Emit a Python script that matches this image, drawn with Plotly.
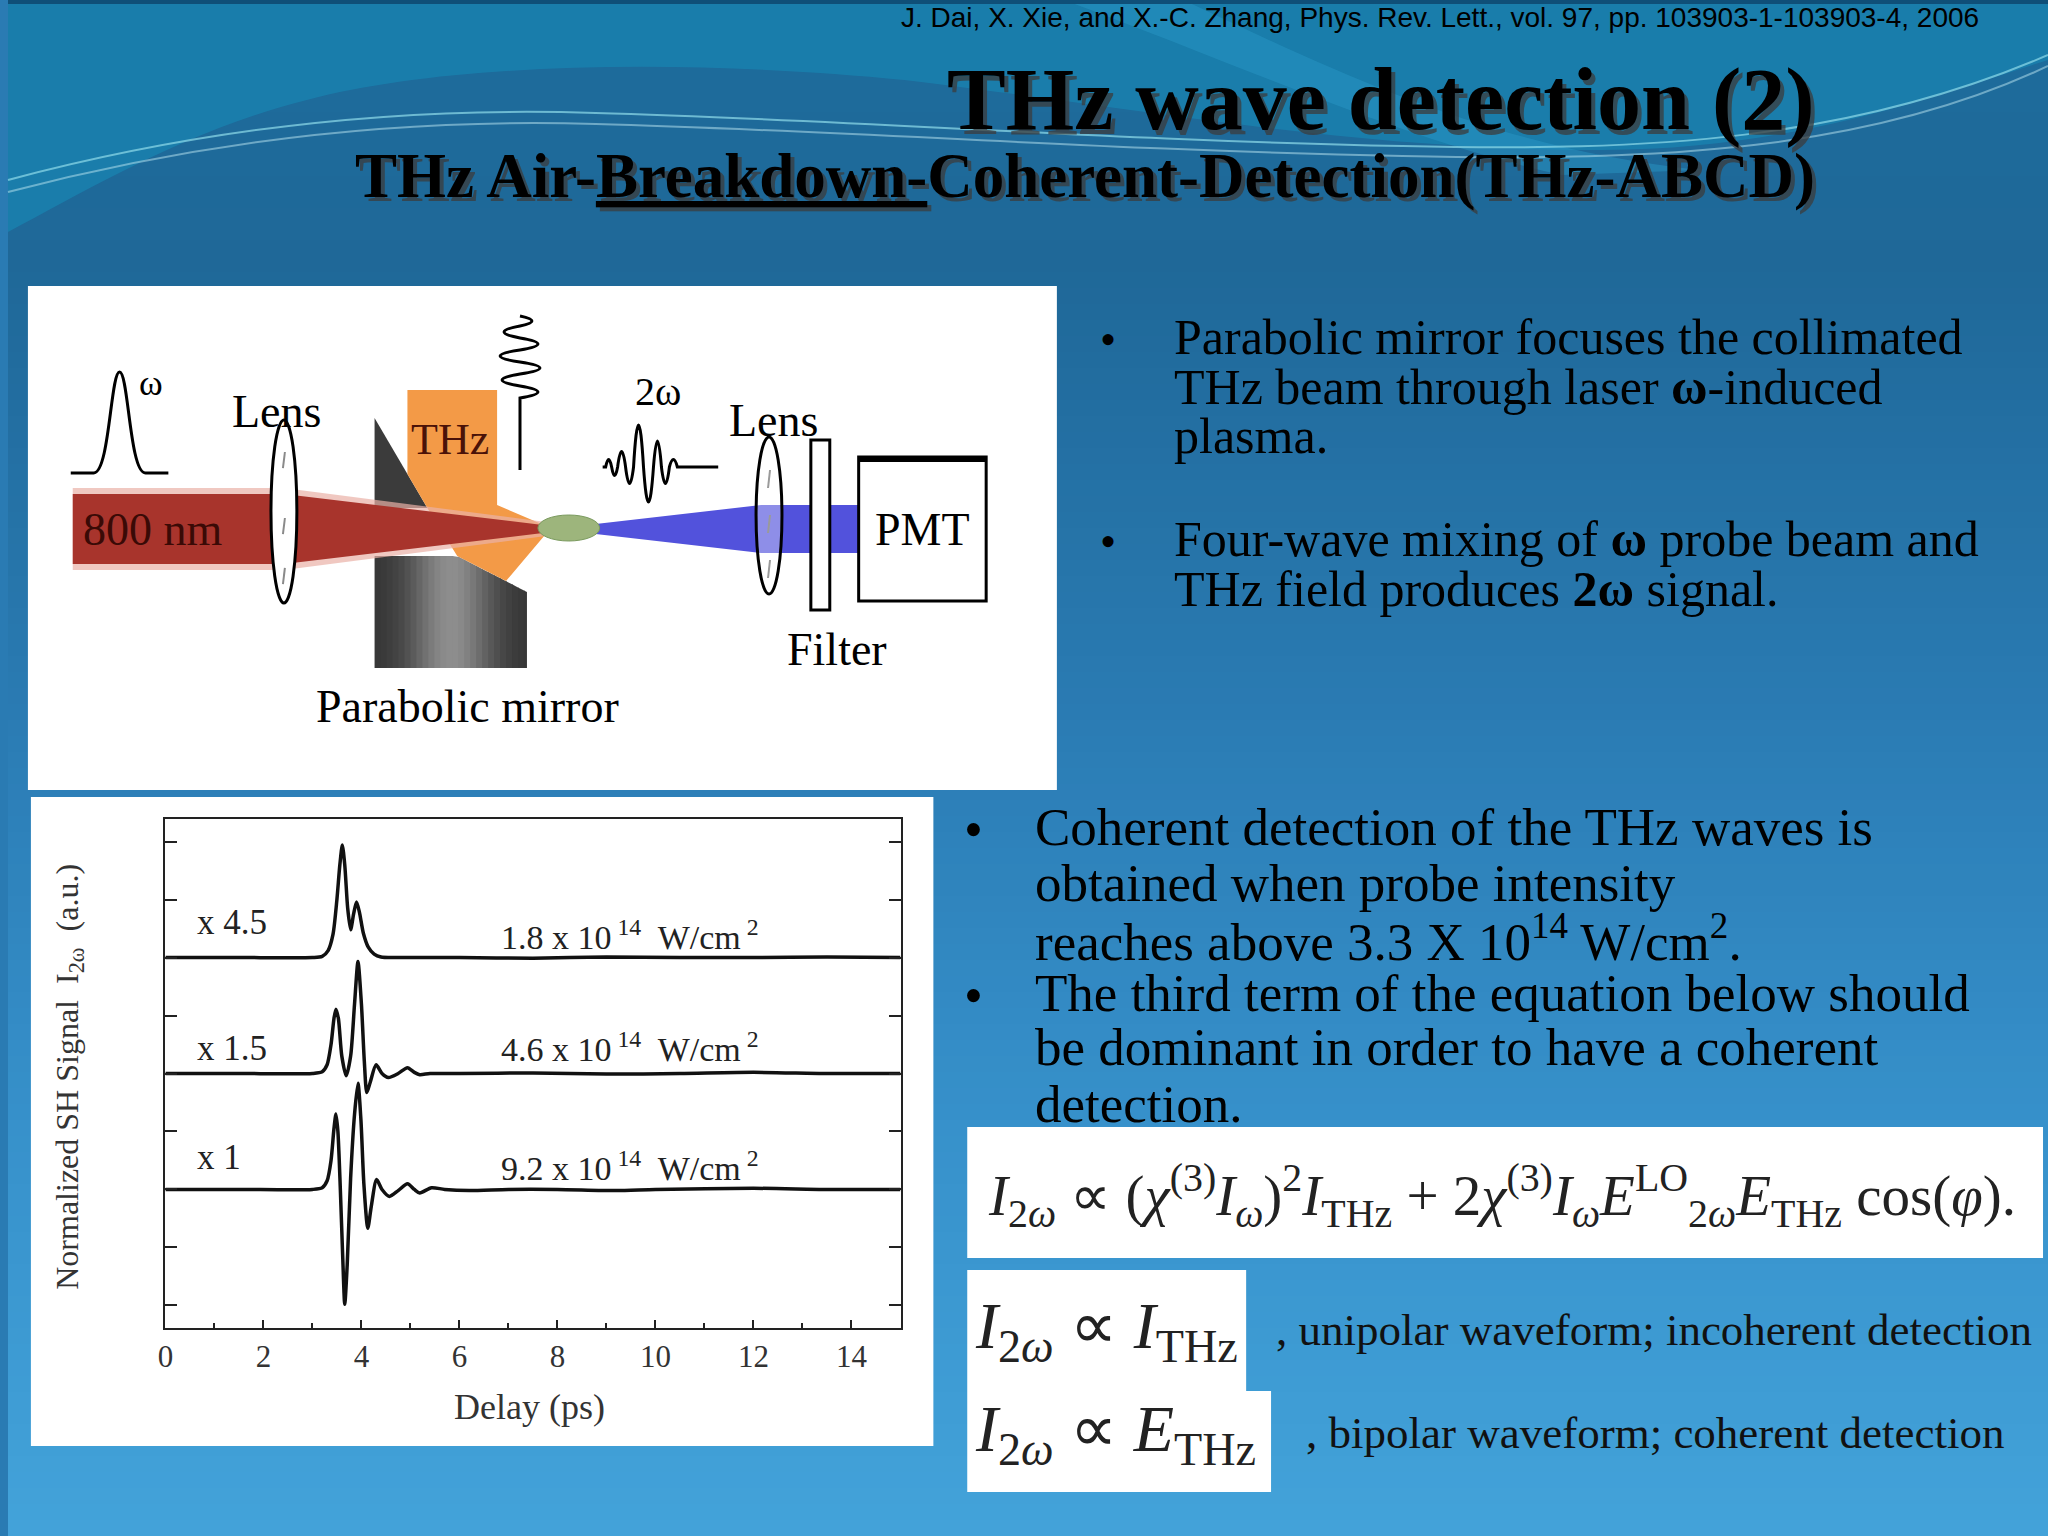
import re
import math
import plotly.graph_objects as go

W, H = 2048, 1536
SERIF = "Liberation Serif"
SANS = "Liberation Sans"

# ---- waveform data (delay in ps, signal in offset units) ----
delay_x45 = [0.0, 1.5, 3.0, 3.2, 3.32, 3.42, 3.50, 3.56, 3.61, 3.66,
             3.72, 3.78, 3.84, 3.90, 3.96, 4.04, 4.14, 4.26, 4.40, 4.7,
             6.0, 7.5, 9.0, 10.5, 12.0, 13.5, 15.0]
signal_x45 = [4.0, 4.0, 4.0, 4.02, 4.12, 4.40, 5.00, 5.60, 5.94, 5.60,
              4.85, 4.48, 4.75, 4.96, 4.78, 4.42, 4.18, 4.06, 4.01, 4.0,
              4.0, 3.99, 4.01, 4.0, 4.0, 4.01, 4.0]

delay_x15 = [0.0, 1.5, 3.0, 3.2, 3.30, 3.38, 3.44, 3.48, 3.53, 3.60,
             3.69, 3.78, 3.86, 3.93, 4.00, 4.06, 4.11, 4.18, 4.30, 4.42,
             4.55, 4.75, 4.94, 5.08, 5.19, 5.40, 6.0, 7.5, 9.0, 10.5,
             12.0, 13.5, 15.0]
signal_x15 = [2.0, 2.0, 2.0, 2.03, 2.15, 2.50, 2.95, 3.11, 2.95, 2.30,
              1.96, 2.30, 3.20, 3.93, 3.20, 2.20, 1.67, 1.85, 2.15, 2.00,
              1.93, 2.00, 2.10, 2.02, 1.98, 2.0, 2.0, 2.01, 1.99, 2.0,
              2.02, 2.0, 2.0]

delay_x1 = [0.0, 1.5, 3.0, 3.2, 3.30, 3.38, 3.44, 3.48, 3.52, 3.57,
            3.62, 3.66, 3.71, 3.78, 3.86, 3.93, 3.99, 4.05, 4.13, 4.20,
            4.31, 4.42, 4.57, 4.75, 4.94, 5.08, 5.19, 5.43, 5.70, 6.2,
            7.0, 8.0, 9.2, 10.0, 12.0, 13.5, 15.0]
signal_x1 = [0.0, 0.0, 0.0, 0.03, 0.15, 0.50, 1.05, 1.30, 1.00, 0.0,
             -1.20, -1.98, -1.30, 0.20, 1.30, 1.83, 1.20, 0.10, -0.67, -0.30,
             0.17, 0.0, -0.12, -0.02, 0.10, 0.0, -0.06, 0.03, 0.0, -0.02,
             0.0, 0.0, -0.02, 0.0, 0.02, 0.0, 0.0]

x_ticks = [0, 2, 4, 6, 8, 10, 12, 14]
x_minor = [1, 3, 5, 7, 9, 11, 13]
y_ticks = [-2, -1, 0, 1, 2, 3, 4, 5, 6]
scale_labels = ["x 4.5", "x 1.5", "x 1"]
intensities = ["1.8", "4.6", "9.2"]


# ---- helpers: slide pixels -> paper fractions ----
def px(x):
    return x / W


def py(y):
    return 1 - y / H


def to_paper(d):
    out = []
    is_x = True
    for t in re.findall(r"[A-Za-z]|-?\d+\.?\d*", d):
        if t.isalpha():
            out.append(t)
            is_x = True
        else:
            v = float(t)
            out.append(f"{px(v):.5f}" if is_x else f"{py(v):.5f}")
            is_x = not is_x
    return " ".join(out)


shapes = []


def rect(x0, y0, x1, y1, fill, line=None, lw=0, opacity=1):
    shapes.append(dict(type="rect", xref="paper", yref="paper",
                       x0=px(x0), x1=px(x1), y0=py(y1), y1=py(y0),
                       fillcolor=fill, opacity=opacity, layer="below",
                       line=dict(color=line or fill, width=lw)))


def ellipse(x0, y0, x1, y1, fill, line="black", lw=3):
    shapes.append(dict(type="circle", xref="paper", yref="paper",
                       x0=px(x0), x1=px(x1), y0=py(y1), y1=py(y0),
                       fillcolor=fill, layer="below",
                       line=dict(color=line, width=lw)))


def path(d, fill=None, line=None, lw=0, opacity=1):
    shapes.append(dict(type="path", xref="paper", yref="paper", path=to_paper(d),
                       fillcolor=fill or "rgba(0,0,0,0)", opacity=opacity,
                       layer="below", line=dict(color=line or "rgba(0,0,0,0)", width=lw)))


def hexrgb(h):
    return [int(h[i:i + 2], 16) for i in (1, 3, 5)]


# background gradient
stops = [(0, "#1d6c9c"), (260, "#1f6898"), (700, "#2a7bb3"), (1100, "#3690ca"), (1536, "#43a3da")]
step = 16
for y in range(0, H, step):
    for (a, ca), (b, cb) in zip(stops[:-1], stops[1:]):
        if a <= y <= b:
            t = (y - a) / (b - a)
            c1, c2 = hexrgb(ca), hexrgb(cb)
            col = "rgb(%d,%d,%d)" % tuple(round(c1[i] + (c2[i] - c1[i]) * t) for i in range(3))
            break
    rect(0, y, W, y + step + 1, col)

# teal swoosh at the top
path("M0,0 L2048,0 L2048,60 C1950,90 1800,150 1600,150 C1350,150 1150,110 900,80 "
     "C700,60 450,60 300,100 C180,130 80,190 0,232 Z", fill="#1a80ad", opacity=0.9)
path("M1060,0 L1180,0 C1350,80 1500,150 1700,170 L1560,175 C1400,140 1250,70 1060,0 Z",
     fill="#2b98c8", opacity=0.45)
path("M0,180 C150,140 350,105 590,113 C850,120 1100,140 1400,146 C1650,152 1850,140 2048,55",
     line="#8fdcea", lw=2, opacity=0.7)
path("M0,192 C160,150 360,117 590,124 C850,131 1100,150 1400,156 C1660,162 1870,150 2048,66",
     line="#bde8f2", lw=2, opacity=0.5)
rect(0, 0, W, 4, "#0f4f78")

# white panels
rect(20, 286, 1053, 790, "white")
rect(23, 797, 929, 1446, "white")
rect(963, 1127, 2043, 1258, "white")
rect(963, 1270, 1243, 1391, "white")
rect(963, 1391, 1268, 1492, "white")

# ---- set-up diagram ----
# parabolic mirror, shaded block under the beam
path("M368,418 L421,508 L368,508 Z", fill="#3b3b3b")


def mirror_top(x):
    return 556 if x <= 451 else 556 + (x - 451) * 36 / 70


for x0 in range(368, 521, 6):
    x1 = min(x0 + 7, 521)
    g = int(52 + 90 * math.exp(-((x0 + 3 - 445) / 42) ** 2))
    path(f"M{x0},{mirror_top(x0):.1f} L{x1},{mirror_top(x1):.1f} L{x1},668 L{x0},668 Z",
         fill=f"rgb({g},{g},{g})")
# THz beam
path("M401,390 L491,390 L491,505 L545,528 L500,581 L451,556 L421,508 L401,474 Z", fill="#f39a47")
# 800 nm beam
path("M65,488 L277,488 L540,522 L540,536 L277,570 L65,570 Z", fill="#eab0a6", opacity=0.7)
rect(65, 494, 277, 564, "#a8342c")
path("M277,494 L537,525 L537,533 L277,564 Z", fill="#a8342c")
# lens 1
ellipse(264, 420, 290, 603, "white")
for y0, y1 in [(452, 468), (518, 534), (568, 584)]:
    path(f"M278,{y0} L276,{y1}", line="#8a8a8a", lw=2)
# plasma and 2w beam
path("M590,524 L756,505 L854,505 L854,553 L756,553 L590,534 Z", fill="#5252dc")
ellipse(532, 515, 594, 541, "#9db57c", line="#7a9a5e", lw=1)
ellipse(751, 437, 777, 594, "rgba(255,255,255,0.35)")
for y0, y1 in [(470, 488), (515, 533), (560, 578)]:
    path(f"M765,{y0} L763,{y1}", line="#9a9a9a", lw=2)
rect(806, 440, 825, 610, "white", line="black", lw=3)
rect(854, 457, 982, 601, "white", line="black", lw=3)
path("M854,459 L982,459", line="black", lw=6)
# pulses
path("M63,473 L86,473 C102,473 103,372 112,372 C121,372 122,473 138,473 L161,473", line="black", lw=3)
path("M514,470 L514,398 Q550,392 514,386 Q478,380 514,374 Q554,368 514,362 Q474,356 514,350 "
     "Q550,344 514,338 Q482,332 514,326 Q538,321 514,316", line="black", lw=3)
path("M597,467 L600,467 Q603,452 606,467 Q609,484 612,467 Q616,436 620,467 Q624,500 628,467 "
     "Q633,383 638,467 Q643,537 648,467 Q652,415 656,467 Q660,500 664,467 Q668,452 672,467 L713,467",
     line="black", lw=3)

# ---- figure ----
fig = go.Figure()
for xs, ys in [(delay_x45, signal_x45), (delay_x15, signal_x15), (delay_x1, signal_x1)]:
    fig.add_trace(go.Scatter(x=xs, y=ys, mode="lines", showlegend=False, hoverinfo="skip",
                             line=dict(color="#111111", width=3.5, shape="spline", smoothing=0.7)))

ann = []


def txt(x, y, text, size, color="black", family=SERIF, xa="center", ya="middle", **kw):
    ann.append(dict(x=px(x), y=py(y), xref="paper", yref="paper", text=text, showarrow=False,
                    xanchor=xa, yanchor=ya, font=dict(family=family, size=size, color=color), **kw))


# header
txt(1981, 17, "J. Dai, X. Xie, and X.-C. Zhang, Phys. Rev. Lett., vol. 97, pp. 103903-1-103903-4, 2006",
    28, family=SANS, xa="right")
for dx, col in [(4, "rgba(60,60,60,0.75)"), (0, "black")]:
    txt(1816 + dx, 100 + dx, "<b>THz wave detection (2)</b>", 88, color=col, xa="right")
    txt(1816 + dx, 176 + dx, "<b>THz Air-<u>Breakdown-</u>Coherent-Detection(THz-ABCD)</b>", 63,
        color=col, xa="right")

# diagram labels
txt(144, 383, "ω", 36)
txt(270, 411, "Lens", 46)
txt(444, 440, "THz", 44, color="#4a1208")
txt(146, 529, "800 nm", 46, color="#3a0a06")
txt(653, 392, "2ω", 40)
txt(769, 420, "Lens", 46)
txt(918, 529, "PMT", 46)
txt(832, 649, "Filter", 46)
txt(461, 707, "Parabolic mirror", 46)

# bullets, upper
upper = [(337, "Parabolic mirror focuses the collimated"),
         (387, "THz beam through laser <b>ω</b>-induced"),
         (436, "plasma."),
         (539, "Four-wave mixing of <b>ω</b> probe beam and"),
         (589, "THz field produces <b>2ω</b> signal.")]
for y, s in upper:
    txt(1169, y, s, 50, xa="left")
txt(1104, 340, "•", 46)
txt(1104, 542, "•", 46)

lower = [(827, "Coherent detection of the THz waves is"),
         (883, "obtained when probe intensity"),
         (938, "reaches above 3.3 X 10<sup>14</sup> W/cm<sup>2</sup>."),
         (993, "The third term of the equation below should"),
         (1047, "be dominant in order to have a coherent"),
         (1104, "detection.")]
for y, s in lower:
    txt(1029, y, s, 53, xa="left")
txt(969, 830, "•", 54)
txt(969, 996, "•", 54)

# equations
I2w = "<i>I</i><sub>2<i>ω</i></sub>"
txt(982, 1195, I2w + " ∝ (<i>χ</i><sup>(3)</sup><i>I</i><sub><i>ω</i></sub>)<sup>2</sup><i>I</i><sub>THz</sub>"
    " + 2<i>χ</i><sup>(3)</sup><i>I</i><sub><i>ω</i></sub><i>E</i><sup>LO</sup><sub>2<i>ω</i></sub>"
    "<i>E</i><sub>THz</sub> cos(<i>φ</i>).", 57, color="#222", xa="left")
txt(969, 1330, I2w + " ∝ <i>I</i><sub>THz</sub>", 66, color="#222", xa="left")
txt(969, 1433, I2w + " ∝ <i>E</i><sub>THz</sub>", 66, color="#222", xa="left")
txt(1271, 1330, ", unipolar waveform; incoherent detection", 45, color="#111", xa="left")
txt(1301, 1433, ", bipolar waveform; coherent detection", 45, color="#111", xa="left")

# plot labels
txt(61, 1077, "Normalized SH Signal  I<sub>2ω</sub>  (a.u.)", 32, color="#333", textangle=-90)
txt(524, 1407, "Delay (ps)", 36, color="#333")
for lab, ypos in zip(scale_labels, [4.61, 2.43, 0.55]):
    ann.append(dict(x=0.6, y=ypos, xref="x", yref="y", text=lab, showarrow=False, xanchor="left",
                    font=dict(family=SERIF, size=35, color="#222")))
for val, ypos in zip(intensities, [4.39, 2.46, 0.40]):
    ann.append(dict(x=6.8, y=ypos, xref="x", yref="y", showarrow=False, xanchor="left",
                    text=f"{val} x 10<sup> 14</sup>  W/cm<sup> 2</sup>",
                    font=dict(family=SERIF, size=34, color="#222")))

axis_common = dict(showgrid=False, zeroline=False, showline=True, linecolor="#222", linewidth=2,
                   ticks="inside", tickcolor="#222", tickwidth=2, fixedrange=True)
fig.update_layout(
    width=W, height=H, margin=dict(l=0, r=0, t=0, b=0),
    paper_bgcolor="#2a7bb3", plot_bgcolor="rgba(0,0,0,0)",
    shapes=shapes, annotations=ann,
    xaxis=dict(domain=[px(158), px(896)], range=[0, 15], tickvals=x_ticks, ticklen=8, mirror=True,
               tickfont=dict(family=SERIF, size=31, color="#333"),
               minor=dict(tickvals=x_minor, ticks="inside", ticklen=5, tickwidth=2, tickcolor="#222"),
               **axis_common),
    yaxis=dict(domain=[py(1328), py(819)], range=[-2.39, 6.39], tickvals=y_ticks, ticklen=12,
               showticklabels=False, mirror="ticks", **axis_common),
)

fig.write_html("out.html", config={"displayModeBar": False},
               post_script="document.body.style.margin='0';document.body.style.padding='0';"
                           "document.documentElement.style.overflow='hidden';")
